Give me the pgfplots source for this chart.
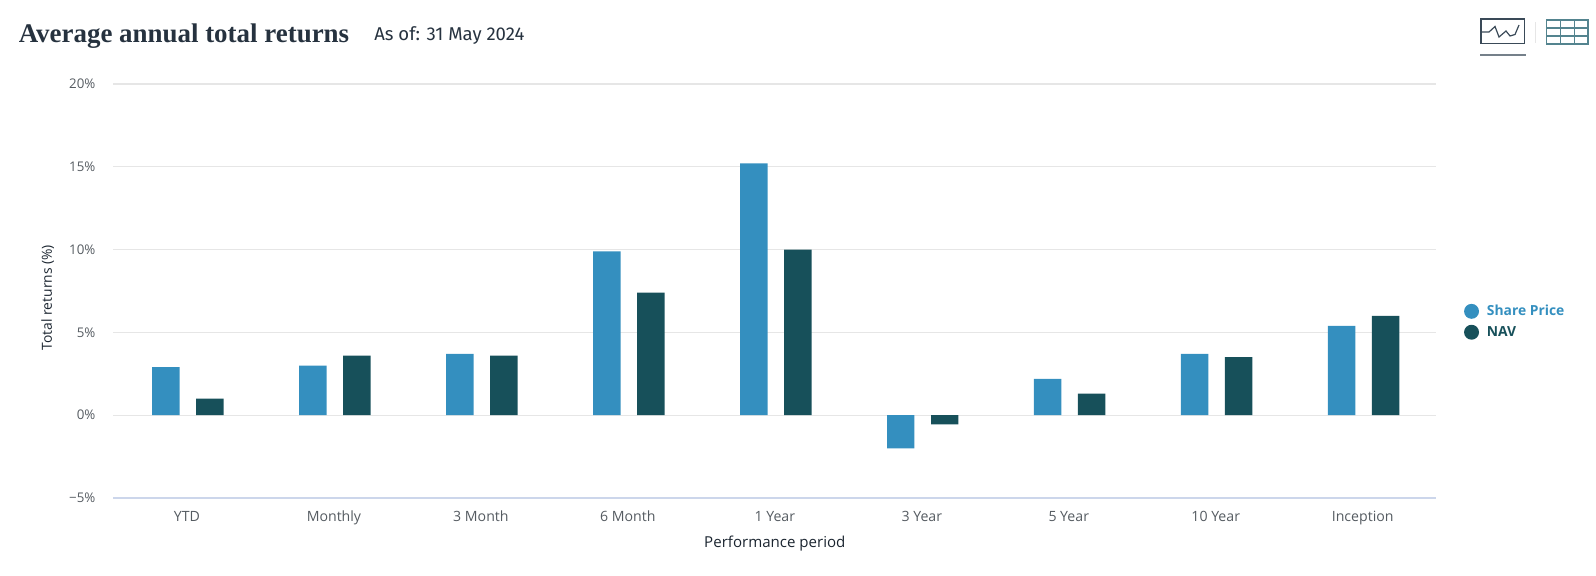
\documentclass[border=0pt]{standalone}
\usepackage{pgfplots}
\usepackage{fontspec}
\pgfplotsset{compat=1.18}
\setmainfont{Open Sans}
\newfontfamily\titlefont{Liberation Serif}
\newfontfamily\subfont{Fira Sans}
\definecolor{sharec}{HTML}{348FBF}
\definecolor{navc}{HTML}{17505A}
\definecolor{gridc}{HTML}{E6E6E6}
\definecolor{axisc}{HTML}{CCD6EB}
\definecolor{tickc}{HTML}{555B61}
\definecolor{titlec}{HTML}{26323F}
\definecolor{labelc}{HTML}{1B2530}
\definecolor{iconc}{HTML}{3A4A58}
\definecolor{tabc}{HTML}{54848F}
\pgfplotstableread{
x share nav
0 2.9 1.0
1 3.0 3.6
2 3.7 3.6
3 9.9 7.4
4 15.2 10.0
5 -2.0 -0.55
6 2.2 1.3
7 3.7 3.5
8 5.4 6.0
}\perf
\begin{document}
\begin{tikzpicture}[x=0.75pt,y=0.75pt]
\path[use as bounding box] (0,0) rectangle (1596,575);
\begin{axis}[
  at={(85.125pt,57.75pt)},anchor=south west,
  scale only axis,width=992pt,height=310.5pt,
  xmin=-0.5,xmax=8.5,ymin=-5,ymax=20,
  ybar,bar width=20.6pt,
  axis y line*=left,axis x line*=bottom,
  y axis line style={draw=none},
  x axis line style={draw=axisc,line width=0.9pt,-},
  major tick length=0pt,
  ytick={-5,0,5,10,15,20},
  yticklabels={−5\%,0\%,5\%,10\%,15\%,20\%},
  xtick={0,...,8},
  xticklabels={YTD,Monthly,3 Month,6 Month,1 Year,3 Year,5 Year,10 Year,Inception},
  ymajorgrids,
  grid style={gridc,line width=0.9pt},
  tick label style={font=\fontsize{10}{12}\selectfont,text=tickc},
  yticklabel style={xshift=-10pt},
  xticklabel style={yshift=-6pt,text height=8pt,text depth=2.5pt,font=\fontsize{10.6}{12}\selectfont},
  xlabel={Performance period},
  ylabel={Total returns (\%)},
  label style={text=labelc},
  xlabel style={yshift=-1.5pt,font=\fontsize{11.3}{12}\selectfont},
  ylabel style={yshift=4.5pt,xshift=-5pt,font=\fontsize{10.4}{12}\selectfont},
  legend cell align=left,
  legend style={at={(1.0205,0.426)},anchor=west,draw=none,fill=none,
    row sep=2.5pt,inner sep=0pt,font=\fontsize{10.4}{12}\selectfont\bfseries},
  legend image code/.code={\fill[#1] (0.3em,0) circle (5.6pt);\path (-0.3em,0) (1.25em,0);},
  clip=false,
]
\addplot[ybar,fill=sharec,draw=none,bar shift=-15.8pt] table[x=x,y=share]{\perf};
\addlegendentry{\textcolor{sharec}{Share Price}}
\addplot[ybar,fill=navc,draw=none,bar shift=17.2pt] table[x=x,y=nav]{\perf};
\addlegendentry{\textcolor{navc}{NAV}}
\end{axis}
% header
\node[anchor=base west,inner sep=0pt,text=titlec] at (18.5,532.5) {\titlefont\bfseries\fontsize{20.2}{22}\selectfont Average annual total returns};
\node[anchor=base west,inner sep=0pt,text=titlec] at (374,534) {\subfont\fontsize{13.9}{15}\selectfont As of: 31 May 2024};
% view-switch icons
\draw[iconc,line width=0.9pt] (1481,531.5) rectangle (1524.5,556);
\draw[iconc,line width=0.9pt] (1481,543) -- (1489,543) -- (1495,548.5) -- (1499,538) -- (1506,544) -- (1510,539) -- (1515,540.5) -- (1519,550);
\draw[iconc!70,line width=0.9pt] (1480,520) -- (1526,520);
\draw[gridc,line width=0.9pt] (1535.5,532) -- (1535.5,553);
\draw[tabc,line width=0.9pt] (1546.5,531) rectangle (1588,555);
\draw[tabc,line width=0.9pt] (1546.5,539) -- (1588,539) (1546.5,547) -- (1588,547) (1560.5,531) -- (1560.5,555) (1574.5,531) -- (1574.5,555);
\end{tikzpicture}
\end{document}
